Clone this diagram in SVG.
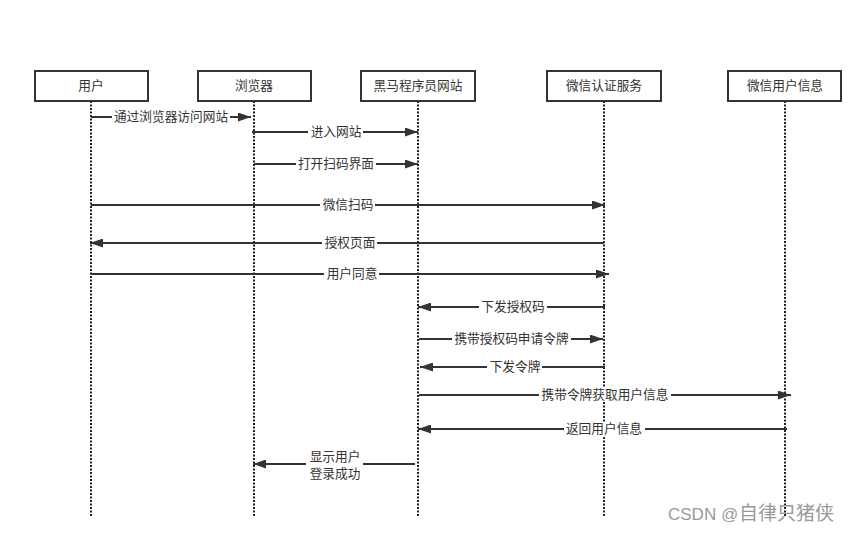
<svg xmlns="http://www.w3.org/2000/svg" width="853" height="533" viewBox="0 0 853 533">
<style>
.box{fill:#fff;stroke:#333;stroke-width:2}
.life{stroke:#222;stroke-width:2;stroke-dasharray:2 1.5;fill:none}
.msg{stroke:#333;stroke-width:1.8;fill:none;marker-end:url(#ah)}
.t{font-family:"Liberation Sans","Noto Sans CJK SC",sans-serif;font-size:12.7px;fill:#333;text-anchor:middle;dominant-baseline:central}
.bg{fill:#fff}
.wm{font-family:"Liberation Sans","Noto Sans CJK SC",sans-serif;font-size:17px;fill:#999}
</style>
<defs>
<marker id="ah" markerUnits="userSpaceOnUse" markerWidth="13" markerHeight="9" refX="13" refY="4.5" orient="auto">
<path d="M0,0 L13,4.5 L0,9 z" fill="#333"/>
</marker>
</defs>
<rect width="853" height="533" fill="#fff"/>
<g id="lifelines">
<line class="life" x1="91" y1="101" x2="91" y2="516"/>
<line class="life" x1="254" y1="101" x2="254" y2="516"/>
<line class="life" x1="418" y1="101" x2="418" y2="516"/>
<line class="life" x1="604" y1="101" x2="604" y2="516"/>
<line class="life" x1="785" y1="101" x2="785" y2="516"/>
</g>
<g id="node-user"><rect class="box" x="35" y="71" width="113" height="30"/><text class="t" x="91" y="86">用户</text></g>
<g id="node-browser"><rect class="box" x="198" y="71" width="113" height="30"/><text class="t" x="254" y="86">浏览器</text></g>
<g id="node-site"><rect class="box" x="361" y="71" width="114" height="30"/><text class="t" x="418" y="86">黑马程序员网站</text></g>
<g id="node-auth"><rect class="box" x="547" y="71" width="114" height="30"/><text class="t" x="604" y="86">微信认证服务</text></g>
<g id="node-info"><rect class="box" x="728" y="71" width="113" height="30"/><text class="t" x="785" y="86">微信用户信息</text></g>
<g id="connectors">
<line class="msg" x1="91" y1="117" x2="251" y2="117"/>
<rect class="bg" x="112" y="110" width="118" height="14"/><text class="t" x="171" y="117">通过浏览器访问网站</text>
<line class="msg" x1="252" y1="132" x2="418" y2="132"/>
<rect class="bg" x="308" y="125" width="55" height="14"/><text class="t" x="336" y="132">进入网站</text>
<line class="msg" x1="254" y1="164" x2="418" y2="164"/>
<rect class="bg" x="296" y="157" width="80" height="14"/><text class="t" x="336" y="164">打开扫码界面</text>
<line class="msg" x1="91" y1="205" x2="605" y2="205"/>
<rect class="bg" x="320" y="198" width="55" height="14"/><text class="t" x="348" y="205">微信扫码</text>
<line class="msg" x1="604" y1="243" x2="90" y2="243"/>
<rect class="bg" x="322" y="236" width="55" height="14"/><text class="t" x="350" y="243">授权页面</text>
<line class="msg" x1="91" y1="274" x2="609" y2="274"/>
<rect class="bg" x="324" y="267" width="55" height="14"/><text class="t" x="352" y="274">用户同意</text>
<line class="msg" x1="605" y1="307" x2="418" y2="307"/>
<rect class="bg" x="479" y="300" width="68" height="14"/><text class="t" x="513" y="307">下发授权码</text>
<line class="msg" x1="419" y1="339" x2="603" y2="339"/>
<rect class="bg" x="452" y="332" width="119" height="14"/><text class="t" x="511.5" y="339">携带授权码申请令牌</text>
<line class="msg" x1="605" y1="367" x2="420" y2="367"/>
<rect class="bg" x="487" y="360" width="55" height="14"/><text class="t" x="515" y="367">下发令牌</text>
<line class="msg" x1="419" y1="395" x2="791" y2="395"/>
<rect class="bg" x="539" y="388" width="132" height="14"/><text class="t" x="605" y="395">携带令牌获取用户信息</text>
<line class="msg" x1="787" y1="429" x2="418" y2="429"/>
<rect class="bg" x="564" y="422" width="81" height="14"/><text class="t" x="604" y="429">返回用户信息</text>
<line class="msg" x1="415" y1="464" x2="253" y2="464"/>
<rect class="bg" x="306" y="449" width="57" height="33"/>
<text class="t" x="335" y="457">显示用户</text><text class="t" x="335" y="474">登录成功</text>
</g>
<text class="wm" x="668" y="520">CSDN @<tspan x="739" font-size="19">自律只猪侠</tspan></text>
</svg>
